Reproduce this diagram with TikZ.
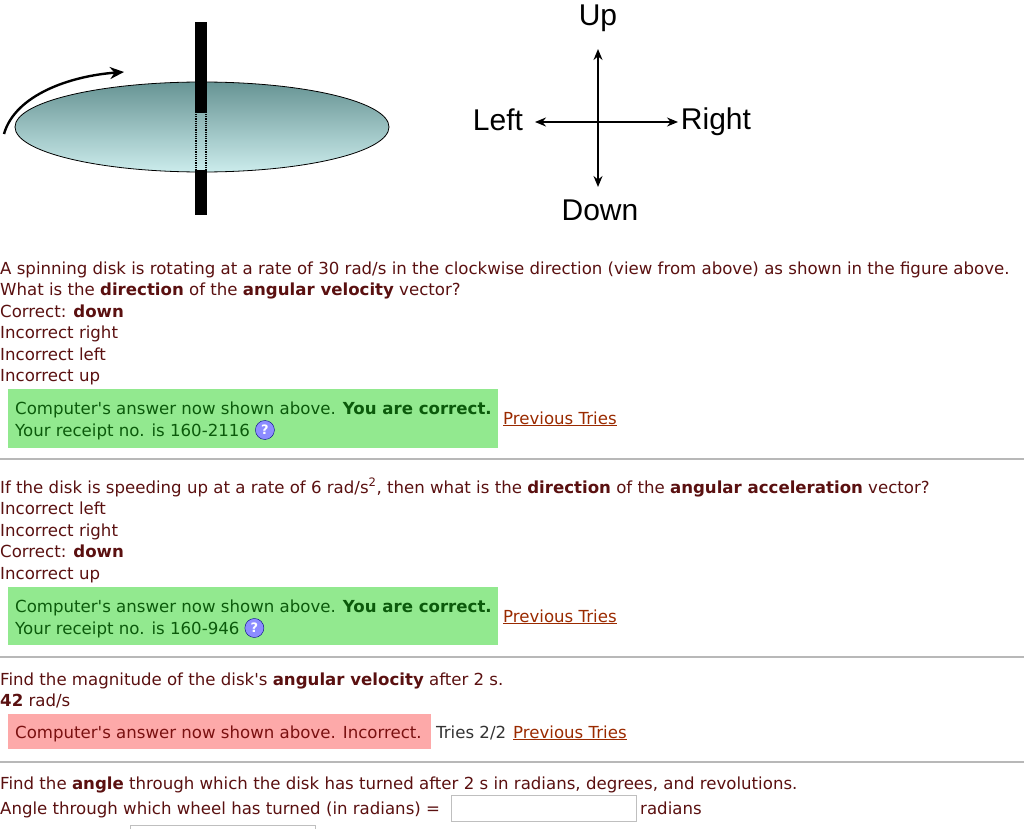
\documentclass[tikz,border=0pt]{standalone}
\usepackage{fontspec}
\setmainfont{DejaVu Sans}
\newfontfamily\arialf{Liberation Sans}
\usetikzlibrary{arrows.meta}
\definecolor{txt}{HTML}{5A1010}
\definecolor{gtxt}{HTML}{0B5A0B}
\definecolor{gbox}{HTML}{92E98F}
\definecolor{rbox}{HTML}{FDA9A9}
\definecolor{rtxt}{HTML}{7A1010}
\definecolor{lnk}{HTML}{9A2A00}
\definecolor{sep}{HTML}{B8B8B8}
\newcommand{\aq}{\textquotesingle}
\begin{document}
\begin{tikzpicture}[x=1pt,y=-1pt,
  t/.style={anchor=base west,inner sep=0,text=txt,font=\fontsize{16.6}{19}\selectfont},
  lab/.style={font=\arialf\fontsize{30}{34}\selectfont,inner sep=0},
  sepl/.style={draw=sep,line width=1.5pt},
  arr/.style={line width=1.6pt,-{Stealth[length=11pt,width=9pt]}},
  qm/.style={circle,draw=blue!50!black,fill=blue!45!white,inner sep=0,minimum size=19pt,text=white,font=\bfseries\fontsize{13}{13}\selectfont}]
\useasboundingbox (0,0) rectangle (1024,829);
% disk
\shade[top color=gray!20!teal!55!white!80!black,bottom color=cyan!15!white!85!gray,draw=black,line width=0.8pt] (202,127) ellipse [x radius=187,y radius=45];
\fill (195,22) rectangle (207,113);
\fill (195,170) rectangle (207,215);
\draw[densely dotted,line width=1.2pt] (196,114)--(196,170) (206,114)--(206,170);
\draw[line width=2.4pt,-{Stealth[length=14pt,width=12pt]}] (4,134) .. controls (15,95) and (70,76) .. (124,72);
% cross
\coordinate (c) at (598,122);
\node[lab] (up) at (598,18) {Up};
\node[lab] (dn) at (600,210) {Down};
\node[lab] (lf) at (498,120) {Left};
\node[lab] (rt) at (716,122) {Right};
\draw[arr] (c)--(598,49);
\draw[arr] (c)--(598,187);
\draw[arr] (c)--(535,122);
\draw[arr] (c)--(678,122);
% text block 1
\node[t] (a1) at (0,274) {A spinning disk is rotating at a rate of 30 rad/s in the clockwise direction (view from above) as shown in the figure above.};
\node[t] (a2) at (0,295.5) {What is the \textbf{direction} of the \textbf{angular velocity} vector?};
\node[t] (a3) at (0,317) {Correct: \textbf{down}};
\node[t] (a4) at (0,338.5) {Incorrect right};
\node[t] (a5) at (0,360) {Incorrect left};
\node[t] (a6) at (0,381.5) {Incorrect up};
\fill[gbox] (8,389) rectangle (498,448);
\node[t,text=gtxt] (b1) at (15,414) {Computer\aq s answer now shown above. \textbf{You are correct.}};
\node[t,text=gtxt] (b2) at (15,436) {Your receipt no. is 160-2116};
\node[qm,anchor=west] (q1) at ([xshift=5pt,yshift=6pt]b2.base east) {?};
\node[t,text=lnk] (p1) at (503,424) {\underline{Previous Tries}};
\draw[sepl] (0,459)--(1024,459);
% block 2
\node[t] (c1) at (0,493) {If the disk is speeding up at a rate of 6 rad/s\textsuperscript{2}, then what is the \textbf{direction} of the \textbf{angular acceleration} vector?};
\node[t] (c2) at (0,514.5) {Incorrect left};
\node[t] (c3) at (0,536) {Incorrect right};
\node[t] (c4) at (0,557.5) {Correct: \textbf{down}};
\node[t] (c5) at (0,579) {Incorrect up};
\fill[gbox] (8,587) rectangle (498,645);
\node[t,text=gtxt] (d1) at (15,612) {Computer\aq s answer now shown above. \textbf{You are correct.}};
\node[t,text=gtxt] (d2) at (15,634) {Your receipt no. is 160-946};
\node[qm,anchor=west] (q2) at ([xshift=5pt,yshift=6pt]d2.base east) {?};
\node[t,text=lnk] (p2) at (503,622) {\underline{Previous Tries}};
\draw[sepl] (0,657)--(1024,657);
% block 3
\node[t] (e1) at (0,685) {Find the magnitude of the disk\aq s \textbf{angular velocity} after 2 s.};
\node[t] (e2) at (0,706.5) {\textbf{42} rad/s};
\fill[rbox] (8,714) rectangle (431,749);
\node[t,text=rtxt] (f1) at (15,738) {Computer\aq s answer now shown above. Incorrect.};
\node[t,text=black!80] (f2) at (436,738) {Tries 2/2};
\node[t,text=lnk] (p3) at (513,738) {\underline{Previous Tries}};
\draw[sepl] (0,762)--(1024,762);
% block 4
\node[t] (g1) at (0,789) {Find the \textbf{angle} through which the disk has turned after 2 s in radians, degrees, and revolutions.};
\node[t] (g2) at (0,814) {Angle through which wheel has turned (in radians) =};
\draw[draw=gray!50,fill=white] (451,795) rectangle (636,821);
\node[t] (g3) at (640,814) {radians};
\draw[draw=gray!50] (130,829) -- (130,825) -- (315,825) -- (315,829);
\end{tikzpicture}
\end{document}
